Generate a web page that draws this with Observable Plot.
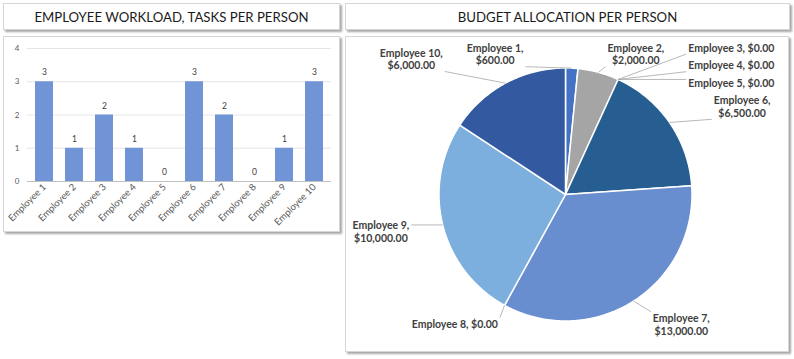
<!DOCTYPE html>
<html><head><meta charset="utf-8">
<script src="https://cdn.jsdelivr.net/npm/d3@7"></script>
<script src="https://cdn.jsdelivr.net/npm/@observablehq/plot@0.6"></script>
<style>
html,body{margin:0;padding:0;background:#fff;}
body{width:794px;height:359px;position:relative;overflow:hidden;font-family:Lato,"Open Sans",sans-serif;}
.box{position:absolute;background:#fff;border:1px solid #d6d6d6;box-shadow:2px 2px 2px rgba(0,0,0,0.35);box-sizing:border-box;}
.title{display:flex;align-items:center;justify-content:center;font-size:13.2px;color:#1a1a1a;}
.box svg{position:absolute;left:0;top:0;}
</style></head><body>
<div class="box title" style="left:3px;top:3px;width:337px;height:27px">EMPLOYEE WORKLOAD, TASKS PER PERSON</div>
<div class="box title" style="left:345px;top:3px;width:445px;height:27px">BUDGET ALLOCATION PER PERSON</div>
<div class="box" id="bar" style="left:3px;top:36px;width:337px;height:196px"></div>
<div class="box" id="pie" style="left:345px;top:36px;width:444px;height:316px"></div>
<script>
const employees = ["Employee 1","Employee 2","Employee 3","Employee 4","Employee 5","Employee 6","Employee 7","Employee 8","Employee 9","Employee 10"];
const tasks = [3,1,2,1,0,3,2,0,1,3];
const budget = [600,2000,0,0,0,6500,13000,0,10000,6000];
const taskTicks = [0,1,2,3,4];
const sliceColors = ["#4472C4","#A5A5A5","#FFC000","#5B9BD5","#70AD47","#265E91","#698ED0","#9E480E","#7CAFDD","#335AA1"];

// ---------- bar chart ----------
const barData = employees.map((e,i)=>({employee:e, tasks:tasks[i]}));
const bar = Plot.plot({
  width:335, height:194, marginLeft:23, marginRight:8, marginTop:11, marginBottom:50,
  style:{fontFamily:"Lato, sans-serif", fontSize:"8px", color:"#595959", background:"transparent"},
  x:{domain:employees, paddingInner:0.4, paddingOuter:0.2, label:null},
  y:{domain:[0,4], ticks:taskTicks, label:null},
  marks:[
    Plot.ruleY(taskTicks.filter(t=>t>0), {stroke:"#e6e6e6", strokeWidth:1}),
    Plot.barY(barData, {x:"employee", y:"tasks", fill:"#7094D6"}),
    Plot.ruleY([0], {stroke:"#bfbfbf", strokeWidth:1}),
    Plot.text(barData, {x:"employee", y:"tasks", text:d=>String(d.tasks), dy:-9, fill:"#404040", fontSize:8.5}),
    Plot.axisY({ticks:taskTicks, tickFormat:"d", tickSize:0, tickPadding:8, fontSize:8, label:null}),
    Plot.axisX({tickRotate:-45, tickSize:0, tickPadding:4, fontSize:9.5, label:null})
  ]
});
document.getElementById("bar").appendChild(bar);

// ---------- pie chart ----------
const W=442, H=314, cx=219, cy=157, R=126.5;
const total = d3.sum(budget);
let acc = 0;
const slices = employees.map((e,i)=>{
  const a0 = acc/total*2*Math.PI; acc += budget[i];
  const a1 = acc/total*2*Math.PI;
  return {name:e, value:budget[i], a0, a1, mid:(a0+a1)/2, i};
});
const polyPts = [];
for (const s of slices) {
  if (s.value <= 0) continue;
  polyPts.push({name:s.name, x:0, y:0});
  const n = Math.max(2, Math.ceil((s.a1-s.a0)/(Math.PI/180)));
  for (let k=0;k<=n;k++){
    const a = s.a0 + (s.a1-s.a0)*k/n;
    polyPts.push({name:s.name, x:Math.sin(a), y:Math.cos(a)});
  }
}

// label layout (pixel space): labels at the same angle form one stacked block
const fmt = d3.format("$,.2f");
const ctx = document.createElement("canvas").getContext("2d");
const FS = 10.5;
ctx.font = `bold ${FS}px Lato`;
const LH = FS*1.2, GAP = 5;
const items = slices.map(s=>{
  const text = s.value>0 ? `${s.name},\n${fmt(s.value)}` : `${s.name}, ${fmt(s.value)}`;
  const lines = text.split("\n");
  return {s, text, w:d3.max(lines, l=>ctx.measureText(l).width), h:lines.length*LH};
});
const groups = d3.groups(items, d=>d.s.mid.toFixed(6)).map(([k, mem])=>{
  const mid = mem[0].s.mid;
  const ux = Math.sin(mid), uy = -Math.cos(mid);
  const w = d3.max(mem, m=>m.w), h = d3.sum(mem, m=>m.h) + GAP*(mem.length-1);
  const qx = cx + (R+60)*ux, qy = cy + (R+15)*uy;
  return {mem, w, h, ux, uy, ex:cx+R*ux, ey:cy+R*uy, x:qx+ux*w/2, y:qy+uy*h/2};
});
const padX = 24, padY = 4;
for (let it=0; it<400; it++){
  for (let i=0;i<groups.length;i++) for (let j=i+1;j<groups.length;j++){
    const A=groups[i], B=groups[j];
    const ox = (A.w+B.w)/2 + padX - Math.abs(A.x-B.x);
    const oy = (A.h+B.h)/2 + padY - Math.abs(A.y-B.y);
    if (ox>0 && oy>0){
      if (oy*2 < ox){
        const d = (A.y===B.y) ? -1 : Math.sign(A.y-B.y);
        A.y += d*oy/2; B.y -= d*oy/2;
      } else {
        const d = (A.x===B.x) ? -1 : Math.sign(A.x-B.x);
        A.x += d*ox/2; B.x -= d*ox/2;
      }
    }
  }
  for (const L of groups){
    const nx = Math.max(L.x-L.w/2, Math.min(cx, L.x+L.w/2));
    const ny = Math.max(L.y-L.h/2, Math.min(cy, L.y+L.h/2));
    const dist = Math.hypot(nx-cx, ny-cy);
    if (dist < R+8){
      const dx=L.x-cx, dy=L.y-cy, dl=Math.hypot(dx,dy)||1;
      L.x += dx/dl*(R+8-dist); L.y += dy/dl*(R+8-dist);
    }
    L.x = Math.max(L.w/2+6, Math.min(W-L.w/2-6, L.x));
    L.y = Math.max(L.h/2+4, Math.min(H-L.h/2-4, L.y));
  }
}
const labels = [];
for (const G of groups){
  let top = G.y - G.h/2;
  for (const m of G.mem){
    const x = G.ux >= 0 && G.mem.length>1 ? G.x - G.w/2 + m.w/2 : G.x;
    const y = top + m.h/2;
    top += m.h + GAP;
    const x0=x-m.w/2-2, x1=x+m.w/2+2, y0=y-m.h/2, y1=y+m.h/2;
    labels.push({m, x, y, ex:G.ex, ey:G.ey,
      ax:Math.max(x0, Math.min(x1, G.ex)), ay:Math.max(y0, Math.min(y1, G.ey))});
  }
}
const toX = px => (px-cx)/R, toY = py => (cy-py)/R;
const labelData = labels.map(L=>({name:L.m.s.name, text:L.m.text, x:toX(L.x), y:toY(L.y),
  ex:toX(L.ex), ey:toY(L.ey), ax:toX(L.ax), ay:toY(L.ay)}));

const pie = Plot.plot({
  width:W, height:H, margin:0,
  style:{background:"transparent", fontFamily:"Lato, sans-serif"},
  x:{domain:[-cx/R,(W-cx)/R], range:[0,W], axis:null},
  y:{domain:[-(H-cy)/R, cy/R], range:[H,0], axis:null},
  color:{domain:employees, range:sliceColors},
  marks:[
    Plot.line(polyPts, {x:"x", y:"y", z:"name", fill:"name", stroke:"white", strokeWidth:1.5, curve:"linear-closed"}),
    Plot.link(labelData, {x1:"ex", y1:"ey", x2:"ax", y2:"ay", stroke:"#a6a6a6", strokeWidth:0.8}),
    Plot.text(labelData, {x:"x", y:"y", text:"text", textAnchor:"middle", lineAnchor:"middle", lineHeight:1.2, fontSize:FS, fontWeight:"bold", fill:"#404040"})
  ]
});
document.getElementById("pie").appendChild(pie);
</script>
</body></html>
